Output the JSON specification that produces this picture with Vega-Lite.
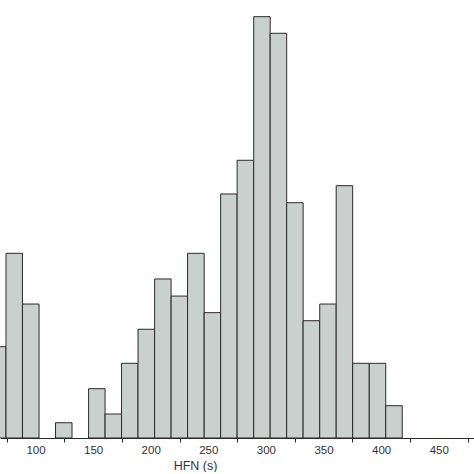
{
  "$schema": "https://vega.github.io/schema/vega-lite/v6.json",
  "width": 474,
  "height": 438,
  "autosize": {"type": "pad"},
  "padding": 0,
  "background": "white",
  "config": {"view": {"stroke": null}, "font": "Liberation Sans"},
  "data": {
    "values": [
      {"start": 60.1, "end": 74.4, "count": 11.0},
      {"start": 74.4, "end": 88.7, "count": 22.25},
      {"start": 88.7, "end": 103.1, "count": 16.14},
      {"start": 117.4, "end": 131.7, "count": 1.84},
      {"start": 146.1, "end": 160.4, "count": 5.94},
      {"start": 160.4, "end": 174.7, "count": 2.89},
      {"start": 174.7, "end": 189.0, "count": 9.0},
      {"start": 189.0, "end": 203.4, "count": 13.1},
      {"start": 203.4, "end": 217.7, "count": 19.16},
      {"start": 217.7, "end": 232.0, "count": 17.1},
      {"start": 232.0, "end": 246.4, "count": 22.25},
      {"start": 246.4, "end": 260.7, "count": 15.1},
      {"start": 260.7, "end": 275.0, "count": 29.4},
      {"start": 275.0, "end": 289.4, "count": 33.46},
      {"start": 289.4, "end": 303.7, "count": 50.76},
      {"start": 303.7, "end": 318.0, "count": 48.76},
      {"start": 318.0, "end": 332.3, "count": 28.35},
      {"start": 332.3, "end": 346.7, "count": 14.13},
      {"start": 346.7, "end": 361.0, "count": 16.14},
      {"start": 361.0, "end": 375.3, "count": 30.4},
      {"start": 375.3, "end": 389.7, "count": 9.0},
      {"start": 389.7, "end": 404.0, "count": 9.0},
      {"start": 404.0, "end": 418.3, "count": 3.89}
    ]
  },
  "mark": {"type": "bar", "fill": "#c9d1cf", "stroke": "#2a2a2a", "strokeWidth": 1, "clip": true},
  "encoding": {
    "x": {
      "field": "start",
      "type": "quantitative",
      "scale": {"domain": [69.2, 480.6], "nice": false, "zero": false},
      "axis": {
        "title": "HFN (s)",
        "values": [75, 100, 125, 150, 175, 200, 225, 250, 275, 300, 325, 350, 375, 400, 425, 450, 475],
        "labelExpr": "datum.value % 50 === 0 ? datum.label : ''",
        "tickOpacity": {"condition": {"test": "datum.value % 50 === 0", "value": 0}, "value": 1},
        "labelOverlap": false,
        "labelBound": false,
        "labelFlush": false,
        "grid": false,
        "domainColor": "#2a2a2a",
        "tickColor": "#2a2a2a",
        "tickSize": 4,
        "labelPadding": 2.5,
        "labelFontSize": 11.5,
        "labelColor": "#333333",
        "titleFontSize": 12.5,
        "titleFontWeight": "normal",
        "titleColor": "#333333",
        "titlePadding": 3.5,
        "titleX": 195
      }
    },
    "x2": {"field": "end"},
    "y": {
      "field": "count",
      "type": "quantitative",
      "scale": {"domain": [0, 52.77], "nice": false},
      "axis": null
    },
    "y2": {"datum": 0}
  }
}
